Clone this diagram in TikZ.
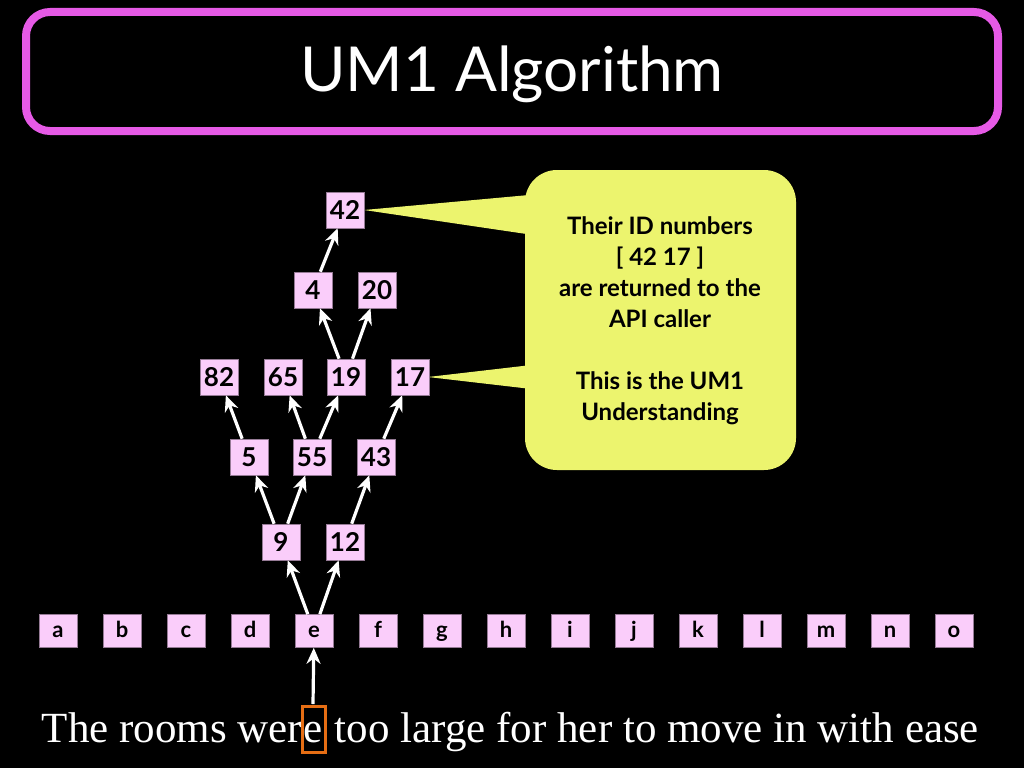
\documentclass[tikz,border=0pt]{standalone}
\usepackage{fontspec}
\setmainfont{Lato}
\newfontfamily\serifsent{Liberation Serif}
\usetikzlibrary{arrows.meta}
\definecolor{boxpink}{RGB}{250,205,250}
\definecolor{framepink}{RGB}{230,90,230}
\definecolor{calloutyellow}{RGB}{236,244,110}
\definecolor{markorange}{RGB}{230,110,20}
\tikzset{
  numbox/.style={fill=boxpink, draw=boxpink!60!black, line width=0.6pt, minimum width=38pt,
    minimum height=36pt, inner sep=0pt, font=\fontsize{26}{28}\selectfont\bfseries, text=black},
  letbox/.style={numbox, minimum width=38pt, minimum height=33pt, text height=16pt, text depth=4pt,
    font=\fontsize{22}{24}\selectfont\bfseries},
  uparrow/.style={-{Stealth[length=16pt,width=14pt]}, white, line width=3.2pt},
  sent/.style={text=white, inner sep=0pt, font=\serifsent\fontsize{43}{45}\selectfont}
}
\begin{document}
\begin{tikzpicture}[x=1pt,y=-1pt]
  \fill[black] (0,0) rectangle (1024,768);
  \useasboundingbox (0,0) rectangle (1024,768);
  % title
  \draw[framepink, line width=8pt, fill=black, rounded corners=24pt] (26,12) rectangle (998,131);
  \node[text=white, font=\fontsize{62}{66}\selectfont] (title) at (512,74) {UM1 Algorithm};
  % callout
  \fill[calloutyellow] (364,210) -- (540,194) -- (540,236) -- cycle;
  \fill[calloutyellow] (428,377) -- (540,364) -- (540,390) -- cycle;
  \fill[calloutyellow, rounded corners=32pt] (525,170) rectangle (796,470);
  \node[align=center, text=black, font=\fontsize{24}{31}\selectfont\bfseries] (note) at (660,321)
    {Their ID numbers\\{}[ 42 17 ]\\ are returned to the\\ API caller\\[31pt] This is the UM1\\ Understanding};
  % letters
  \foreach \l [count=\i from 0] in {a,b,c,d,e,f,g,h,i,j,k,l,m,n,o} {
    \node[letbox] (\l) at (58+64*\i,631) {\l};
  }
  % tree
  \foreach \n/\x/\y in {42/345/210, 4/313/290, 20/377/290,
      82/219/377, 65/283/377, 19/346/377, 17/410/377,
      5/249/457, 55/312/457, 43/376/457, 9/281/542, 12/345/542} {
    \node[numbox] (n\n) at (\x,\y) {\n};
  }
  \foreach \a/\b in {e/n9, e/n12, n9/n5, n9/n55, n12/n43, n5/n82, n55/n65, n55/n19,
      n43/n17, n19/n4, n19/n20, n4/n42} {
    \draw[uparrow] (\a) -- (\b);
  }
  % sentence
  \node[sent] (we) at (313,733) {e};
  \node[sent, anchor=base east] (pre) at ([xshift=-1pt]we.base west) {The rooms wer};
  \node[sent, anchor=base west] (post) at ([xshift=12pt]we.base east) {too large for her to move in with ease};
  \draw[markorange, line width=3pt] (302,706) rectangle (325,752);
  \coordinate (src) at (313,704);
  \draw[uparrow] (src) -- (e);
\end{tikzpicture}
\end{document}
